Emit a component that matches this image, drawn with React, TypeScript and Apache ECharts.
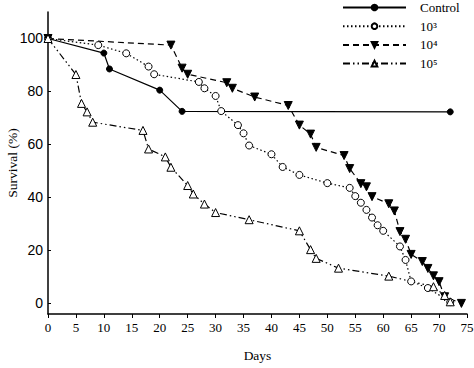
import React, { useEffect, useRef } from "react";
import * as echarts from "echarts";

const xTicks = [0, 5, 10, 15, 20, 25, 30, 35, 40, 45, 50, 55, 60, 65, 70, 75];
const yTicks = [0, 20, 40, 60, 80, 100];
const seriesNames = ["Control", "10³", "10⁴", "10⁵"];

const control = [[0, 100], [10, 94.5], [11, 88.5], [20, 80.5], [24, 72.5], [72, 72.3]];
const dose3 = [
  [0, 100], [9, 97.5], [14, 94.4], [18, 89.4], [19, 86.5], [27, 83.6], [28, 81.2], [30, 78.3],
  [31, 72.6], [34, 67.3], [35, 64.2], [36, 59.6], [40, 56.3], [42, 51.5], [45, 48.5], [50, 45.4],
  [54, 43.6], [55, 40.5], [56, 38], [57, 35.3], [58, 32.4], [59, 29.5], [60, 27.4], [63, 21.5],
  [64, 16.4], [65, 8.3], [68, 5.8], [72, 0.5],
];
const dose4 = [
  [0, 100], [22, 97.5], [24, 88.8], [25, 86.5], [32, 83.3], [33, 81.2], [37, 77.9], [43, 74.7],
  [45, 67.3], [47, 63.9], [48, 58.9], [53, 55.8], [54, 50.9], [56, 45.2], [57, 44], [58, 40.3],
  [61, 37.6], [62, 34.9], [63, 27.1], [64, 24.2], [65, 18.5], [67, 15.8], [68, 13.2], [69, 10.4],
  [70, 8.2], [71, 2.5], [74, 0],
];
const dose5 = [
  [0, 100], [5, 86.4], [6, 75.5], [7, 72.3], [8, 68.4], [17, 65.3], [18, 58.3], [21, 55.3],
  [22, 51.4], [25, 44.5], [26, 41.3], [28, 37.5], [30, 34.3], [36, 31.6], [45, 27.4], [47, 20.3],
  [48, 17], [52, 13.3], [61, 10.3], [69, 6.3], [71, 3], [72, 0.6],
];

const serif = "Liberation Serif";
const downTri = "path://M0,0 L10,0 L5,9 Z";

export default function App() {
  const ref = useRef<HTMLDivElement>(null);
  useEffect(() => {
    document.body.style.margin = "0";
    if (!ref.current) return;
    const chart = echarts.init(ref.current, null, { renderer: "svg" });
    const line = (name: string, data: number[][], symbol: string, size: number, fill: string, dash: any) => ({
      name,
      type: "line",
      data,
      symbol,
      symbolSize: size,
      showAllSymbol: true,
      lineStyle: { color: "#000", width: 1.2, type: dash },
      itemStyle: { color: fill, borderColor: "#000", borderWidth: 1 },
      emphasis: { disabled: true },
      z: 2,
    });
    chart.setOption({
      animation: false,
      backgroundColor: "#fff",
      grid: { left: 48, right: 7, top: 12, bottom: 54, containLabel: false, outerBoundsMode: "none" },
      legend: {
        orient: "vertical",
        left: 342,
        top: 1,
        padding: 0,
        itemWidth: 63,
        itemHeight: 7,
        itemGap: 5.7,
        data: seriesNames,
        textStyle: { fontFamily: serif, fontSize: 13, lineHeight: 13, color: "#000", padding: [0, 0, 0, 9] },
        selectedMode: false,
      },
      xAxis: {
        type: "value",
        min: 0,
        max: 75,
        interval: 5,
        name: "Days",
        nameLocation: "middle",
        nameGap: 34,
        nameMoveOverlap: false,
        nameTextStyle: { fontFamily: serif, fontSize: 13.5, color: "#000" },
        axisLine: { onZero: false, lineStyle: { color: "#000", width: 1.5 } },
        axisTick: { length: 4, lineStyle: { color: "#000" } },
        axisLabel: { fontFamily: serif, fontSize: 13, color: "#000", margin: 7 },
        splitLine: { show: false },
      },
      yAxis: {
        type: "value",
        min: -4,
        max: 110,
        name: "Survival (%)",
        nameLocation: "middle",
        nameGap: 29,
        nameMoveOverlap: false,
        nameTextStyle: { fontFamily: serif, fontSize: 13.5, color: "#000" },
        axisLine: { onZero: false, lineStyle: { color: "#000", width: 1.5 } },
        axisTick: { inside: true, length: 3, customValues: yTicks, lineStyle: { color: "#000" } },
        axisLabel: { fontFamily: "Liberation Sans", fontSize: 14, color: "#000", margin: 5, customValues: yTicks },
        splitLine: { show: false },
      },
      series: [
        line(seriesNames[0], control, "circle", 6, "#000", "solid"),
        line(seriesNames[1], dose3, "circle", 7, "#fff", [1.5, 2.5]),
        line(seriesNames[2], dose4, downTri, 8, "#000", [6, 4]),
        line(seriesNames[3], dose5, "triangle", 8, "#fff", [7, 3, 1.5, 3, 1.5, 3]),
      ],
    });
    return () => chart.dispose();
  }, []);
  return <div ref={ref} style={{ width: 474, height: 368 }} />;
}
